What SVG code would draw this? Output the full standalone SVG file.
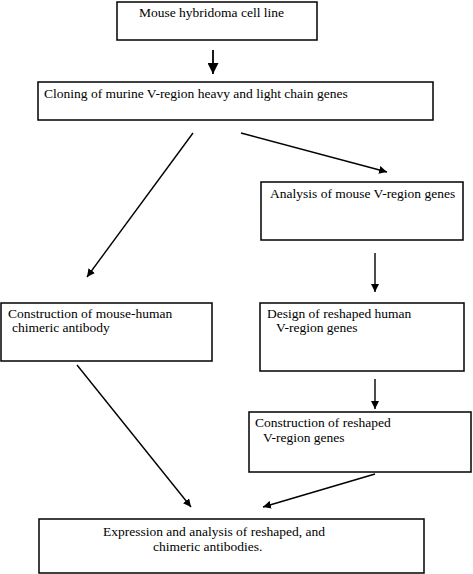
<svg xmlns="http://www.w3.org/2000/svg" width="473" height="574" viewBox="0 0 473 574">
<defs>
<style>
.box{fill:#fff;stroke:#000;stroke-width:1.5}
.t{font-family:"Liberation Serif","Times New Roman",serif;font-size:13.5px;fill:#000}
.c{stroke:#000;stroke-width:1.4;fill:none;marker-end:url(#ah)}
.c2{stroke:#000;stroke-width:1.8;fill:none;marker-end:url(#ah2)}
</style>
<marker id="ah" viewBox="0 0 10 10" refX="10" refY="5" markerWidth="8" markerHeight="8" markerUnits="userSpaceOnUse" orient="auto">
<path d="M0,0 L10,5 L0,10 z" fill="#000"/>
</marker>
<marker id="ah2" viewBox="0 0 10 10" refX="10" refY="5" markerWidth="11" markerHeight="11" markerUnits="userSpaceOnUse" orient="auto">
<path d="M0,0 L10,5 L0,10 z" fill="#000"/>
</marker>
</defs>
<rect width="473" height="574" fill="#fff"/>
<g id="connectors">
<line class="c2" x1="213" y1="50" x2="213" y2="74"/>
<line class="c" x1="193" y1="133" x2="87" y2="277"/>
<line class="c" x1="241" y1="133" x2="387" y2="172"/>
<line class="c" x1="375" y1="253" x2="375" y2="292"/>
<line class="c" x1="375" y1="379" x2="375" y2="409"/>
<line class="c" x1="77" y1="365" x2="191" y2="507"/>
<line class="c" x1="375" y1="474" x2="263" y2="507"/>
</g>
<g id="n1">
<rect class="box" x="117" y="2" width="200" height="38"/>
<text class="t" x="139" y="17">Mouse hybridoma cell line</text>
</g>
<g id="n2">
<rect class="box" x="38" y="82" width="395" height="38"/>
<text class="t" x="44" y="98">Cloning of murine V-region heavy and light chain genes</text>
</g>
<g id="n3">
<rect class="box" x="261" y="182" width="202" height="58"/>
<text class="t" x="270" y="198">Analysis of mouse V-region genes</text>
</g>
<g id="n4">
<rect class="box" x="1" y="303" width="211" height="58"/>
<text class="t" x="8" y="318">Construction of mouse-human</text>
<text class="t" x="12" y="332">chimeric antibody</text>
</g>
<g id="n5">
<rect class="box" x="260" y="303" width="204" height="68"/>
<text class="t" x="267" y="318">Design of reshaped human</text>
<text class="t" x="276" y="332">V-region genes</text>
</g>
<g id="n6">
<rect class="box" x="249" y="412" width="222" height="60"/>
<text class="t" x="255" y="427">Construction of reshaped</text>
<text class="t" x="263" y="442">V-region genes</text>
</g>
<g id="n7">
<rect class="box" x="39" y="519" width="385" height="54"/>
<text class="t" x="103" y="536">Expression and analysis of reshaped, and</text>
<text class="t" x="153" y="551">chimeric antibodies.</text>
</g>
</svg>
